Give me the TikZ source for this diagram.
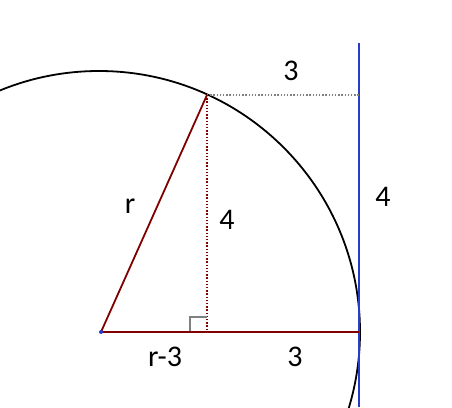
\documentclass[tikz,border=0pt]{standalone}
\usepackage{fontspec}
\setmainfont{Carlito}
\definecolor{dred}{RGB}{128,0,0}
\definecolor{tblue}{RGB}{40,60,200}
\begin{document}
\begin{tikzpicture}[x=1pt,y=-1pt,
  lbl/.style={font=\fontsize{30}{35}\selectfont, inner sep=0pt},
  side/.style={draw=dred, line width=1.8pt},
  dotv/.style={draw=dred, line width=1.6pt, dash pattern=on 1.4pt off 1.8pt},
  doth/.style={draw=gray, line width=1.6pt, dash pattern=on 1.4pt off 1.8pt}]
\useasboundingbox (0,0) rectangle (452,407);
\begin{scope}
\clip (0,0) rectangle (452,407);
\draw[line width=1.8pt] (99,332) circle (261);
\end{scope}
\coordinate (O) at (101,332);
\coordinate (P) at (207,95);
\coordinate (F) at (207,332);
\coordinate (T) at (359,332);
\coordinate (Q) at (359,95);
\coordinate (Btop) at (359,43);
\coordinate (Bbot) at (359,407);
\draw[draw=tblue, line width=1.8pt] (Btop) -- (Bbot);
\draw[doth] (P) -- (Q);
\draw[dotv] (P) -- (F);
\draw[gray, line width=1.5pt] (190,332) -- (190,317) -- (207,317);
\draw[side] (O) -- (P);
\draw[side] (O) -- (T);
\fill[tblue] (O) circle (2);
\node[lbl] (l3top) at (291,71) {3};
\node[lbl] (l4right) at (383,197) {4};
\node[lbl] (lr) at (130,206) {r};
\node[lbl] (l4mid) at (227,220) {4};
\node[lbl] (lr3) at (165,357) {r-3};
\node[lbl] (l3bot) at (295,357) {3};
\end{tikzpicture}
\end{document}
